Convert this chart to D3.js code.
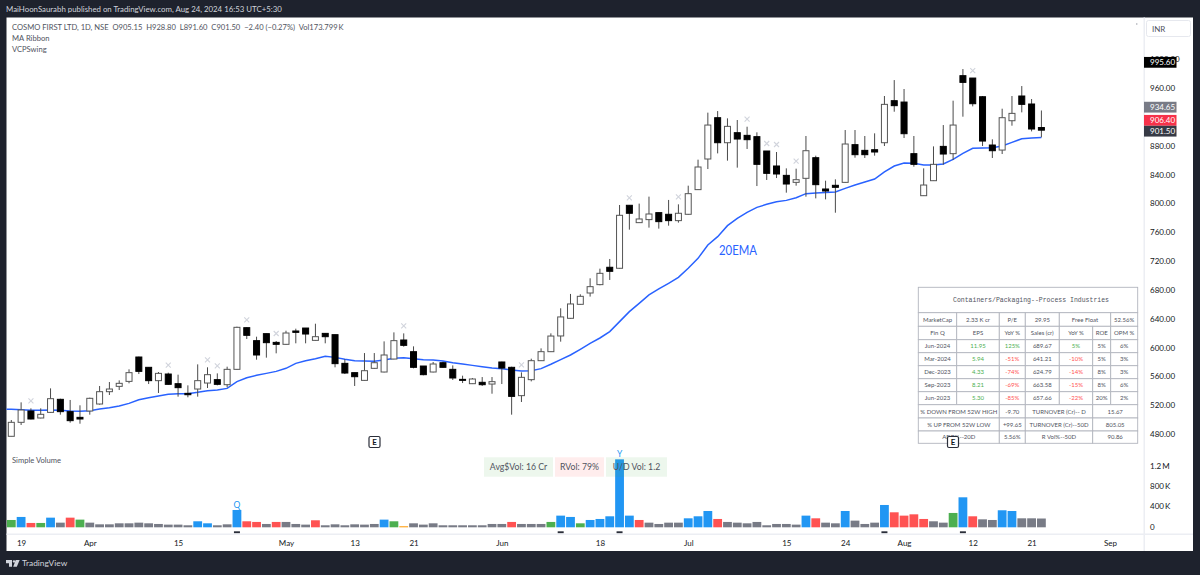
<!DOCTYPE html>
<html>
<head>
<meta charset="utf-8">
<script src="https://cdn.jsdelivr.net/npm/d3@7"></script>
<style>
    html, body { margin: 0; padding: 0; background: #1e222d; overflow: hidden; }
    text { font-family: Lato, sans-serif; }
</style>
</head>
<body>
<div id="chart"></div>
<script>
// daily candles
var opens = [476.8,496.2,511.9,502.2,510,528.1,511,503.1,511.9,521.6,
    538.7,546.1,553,586.8,572.5,554,563.2,549.8,536.4,542.4,
    550.7,555.4,548.4,569.7,627.5,609.5,619.2,607.1,604.4,622.9,
    627,609.9,619.6,617.8,578,565.1,554.4,571.1,566,584,
    610.4,594.2,574.3,566,578.9,569.7,555.8,549.8,551.7,549.3,
    579.9,572.5,533.2,555.4,581.7,594.2,616,640.5,659.9,675.6,
    687.2,711.3,709.9,797.3,773.2,777.4,787.1,784.8,776,784.8,
    819,861.5,918.8,884.1,898,894.3,892.5,872.6,851.8,838.8,
    829.1,834.7,863.3,819.9,825,829.1,881.4,873.5,874.4,884.1,
    942.4,940.5,868.9,810.6,831.4,879,868.9,977.1,973.8,947.9,
    880.9,873.9,914.6,948.9,937.8,905.15];
var highs = [499.4,523.9,515.6,515.6,543.3,529,527.2,519.8,530.4,546.6,
    552.1,554.4,569.7,587.3,572.5,566,565.1,562.3,547.5,576.6,
    572.5,564.1,573.4,628.9,628,615,619.2,609,623.3,626.1,
    627,633,619.6,617.8,583.6,565.1,592.3,592.3,608.5,621,
    619.6,601.6,574.3,579.9,580.3,575.2,560.9,557.7,559,559,
    580.3,573.4,565.5,584.5,598.8,619.6,654.4,674.3,673.8,696,
    709.4,722.8,797.7,797.3,799.6,809.3,787.1,804.7,798.6,824.5,
    860.6,925.8,928,917.9,915.6,906.3,898.5,872.6,871.2,848.5,
    848.1,893.4,866.1,831.4,833.3,901.7,901.7,893.4,897.1,948.9,
    971,958.6,893.4,848.5,879,908.6,942.4,986.3,973.8,948.9,
    888.8,931.3,948.9,962.7,944.7,928.8];
var lows = [476.8,492.5,500.3,501.7,509.6,506.8,495.7,494.3,506.8,520.7,
    534.1,541,550.3,563.2,549.3,536.9,548.4,531.8,530.9,531.8,
    543.8,547.5,544.7,569.2,611.8,583.1,585.9,591.9,603.9,605.8,
    605.8,609.5,605.8,572.5,563.2,546.6,554,570.6,565.5,583.6,
    601.1,571.1,561.4,565.5,572,554.9,550.7,549.3,546.6,535.9,
    549.3,506.8,524.4,553,581.3,593.7,608.1,640,659.5,670.6,
    686.3,693.7,709.4,763.5,772.7,766.3,764.9,769,773.2,784.3,
    818.5,847.6,869.3,859.2,849.5,875.4,824,832.4,835.1,814.8,
    824.5,809.2,806.9,805.5,787,828.7,863.3,862.9,866.1,879.5,
    927.1,890.6,850.8,810.2,831,853.6,860.1,920.2,934.5,879.5,
    862.9,868.4,907.7,926.2,899.8,891.6];
var closes = [496.2,513.3,500.8,507.3,529,511,498.5,500.8,529.5,538.7,
    542.4,550.3,565.1,566.9,554,564.1,548.9,544.3,534.5,554,
    562.3,548.9,569.7,628,616.9,589.6,606.7,604.4,620.1,621,
    618.7,615,615,577.6,564.6,559.5,567.8,578.9,589.6,609.5,
    603,572.5,562.3,577.1,572.5,557.7,555.4,556.3,548.4,552.6,
    571.5,532.2,558.6,581.7,594.2,615.9,642.4,660.4,671,684.4,
    702.9,705.7,783.4,786.2,778.3,785.2,774.6,776,786.2,813.4,
    850.4,908.6,884.1,906.8,889.2,888.3,854.1,841.6,840.7,826.8,
    832.8,873,825.9,817.1,822.2,882.3,867.5,867.5,871.2,937.3,
    935.5,896.6,854.1,825.4,854.1,868.4,908.6,967.8,938.2,886.4,
    873,918.8,924.8,937.3,903.1,901.5];

// 20 EMA, first value sits one bar left of the first candle
var emaValues = [514.2,
    514.2,513.7,512.8,512.8,513.3,512.8,511.9,511.4,512.4,514.7,
    516.5,518.8,522.5,527.6,530.4,532.7,535,535.9,535.9,537.8,
    540.1,541,543.3,552.6,558.1,561.4,564.1,566.9,571.1,578,
    581.7,584.5,587.7,586.3,583.6,581.7,581.3,580.8,582.6,585,
    585.9,584.5,583.1,582.6,581.3,578.9,577.1,575.2,573.4,571.5,
    570.6,568.8,567.4,567.8,570.7,576.7,583.2,589.6,597.5,605.8,
    613.2,622,635.9,649.8,661.3,672.9,681.2,689.1,697.4,709.9,
    723.7,742.2,753.8,769,779.2,787.5,794.4,798.6,802.3,804.1,
    807.8,813.4,814.3,815.2,815.7,820.8,825.4,829.6,833.7,843.6,
    851.8,855.9,855.5,853.1,853.1,854.5,861,869.3,876.3,876.7,
    877.2,879.5,884.6,889.7,890.6,891.5];

// volume in thousands
var volumes = [145,205,86,86,191,92,191,152,92,59,
    59,79,79,92,79,66,53,53,40,119,
    79,40,59,343,119,106,66,106,106,66,
    53,139,40,59,40,59,53,66,152,119,
    20,79,53,79,40,40,40,40,40,66,
    66,106,66,66,66,106,231,205,79,145,
    165,218,1346,231,145,92,66,92,92,178,
    218,323,165,106,92,79,106,40,66,66,
    53,231,178,92,79,323,132,66,92,442,
    297,231,257,165,119,92,284,594,218,158,
    145,337,323,178,178,174];
var volumeKinds = ("g b r g b n r g n n " +
    "n n n n n n n n n b " +
    "b n n b r r n r n n " +
    "n r n n n n n n b g " +
    "o n n n n n n n n n " +
    "n r n n n g b b g b " +
    "b b b b r n n n n b " +
    "b b r n n n n n n n " +
    "n b r n n b n n n b " +
    "r r r r n n g b r n " +
    "n b b n n n").split(" ");

var crossBars = [2,16,20,21,24,27,40,52,63,68,75,77,78,80,98];
var signalDashes = [23,56,62,89,97];
var volumeLetters = [{bar: 23, text: "Q"}, {bar: 62, text: "Y"}];

var priceTicks = [1000,960,880,840,800,760,720,680,640,600,560,520,480];
var volumeTicks = [0,400,800,1200];
var timeBars = [1,8,17,28,35,41,50,60,69,79,85,91,98,104,112];
var timeLabels = ["19","Apr","15","May","13","21","Jun","18","Jul","15","24","Aug","12","21","Sep"];

var tableTitle = "Containers/Packaging--Process Industries";
var summaryRow = ["MarketCap","2.33 K cr","P/E","29.95","Free Float","52.56%"];
var finHead = ["Fin Q","EPS","YoY %","Sales (cr)","YoY %","ROE","OPM %"];
var finQuarters = ["Jun-2024","Mar-2024","Dec-2023","Sep-2023","Jun-2023"];
var finEps = ["11.95","5.94","4.33","8.21","5.30"];
var finEpsYoy = ["125%","-51%","-74%","-69%","-85%"];
var finSales = ["689.67","641.21","624.79","663.58","657.66"];
var finSalesYoy = ["5%","-10%","-14%","-15%","-22%"];
var finRoe = ["5%","5%","8%","8%","20%"];
var finOpm = ["6%","3%","3%","6%","2%"];
var footRows = [
    ["% DOWN FROM 52W HIGH","-9.70","TURNOVER  (Cr)-- D","15.67"],
    ["% UP FROM 52W LOW","+99.65","TURNOVER (Cr)--50D","805.05"],
    ["ADR%--20D","5.56%","R Vol%--50D","90.86"]
];

var width = 1200, height = 575;
var kindColor = {g: "#4caf50", b: "#2196f3", r: "#ff5252", n: "#787b86", o: "#ff9800"};
var green = "#4caf50", red = "#ff5252", inkTable = "#50535e", ink = "#131722";
var tickSize = "8px", legendSize = "7.6px", tableSize = "6px";

var svg = d3.select("#chart").append("svg")
    .attr("width", width)
    .attr("height", height)
    .style("display", "block");

// scales
var x = d3.scaleLinear().domain([0, 105]).range([11.3, 1041.4]);
var y = d3.scaleLinear().domain([480, 960]).range([434, 88]);
var yVol = d3.scaleLinear().domain([0, 1200]).range([527.3, 466.7]);

// frame
svg.append("rect").attr("width", width).attr("height", height).attr("fill", "#1e222d");
svg.append("rect").attr("x", 6.5).attr("y", 17.5).attr("width", 1186.5).attr("height", 533.5).attr("fill", "#fff");
svg.append("clipPath").attr("id", "pane")
    .append("rect").attr("x", 6.5).attr("y", 17.5).attr("width", 1137).attr("height", 516);
svg.append("rect").attr("x", 6.5).attr("y", 533.5).attr("width", 1186.5).attr("height", 1.5).attr("fill", "#eceef3");
svg.append("rect").attr("x", 1143.5).attr("y", 17.5).attr("width", 1.5).attr("height", 533.5).attr("fill", "#eceef3");

// header lines
svg.append("text").attr("x", 6).attr("y", 12.3).attr("fill", "#d1d4dc").style("font-size", "7.83px")
    .text("MaiHoonSaurabh published on TradingView.com, Aug 24, 2024 16:53 UTC+5:30");
var legendLines = [
    {t: "COSMO FIRST LTD, 1D, NSE\u00a0\u00a0O905.15\u00a0\u00a0H928.80\u00a0\u00a0L891.60\u00a0\u00a0C901.50\u00a0\u00a0\u22122.40 (\u22120.27%)\u00a0\u00a0Vol173.799\u2009K", y: 30.3},
    {t: "MA Ribbon", y: 41.2},
    {t: "VCPSwing", y: 52.4}
];
svg.selectAll(".legend-line").data(legendLines).enter().append("text")
    .attr("class", "legend-line")
    .attr("x", 12)
    .attr("y", function(d) { return d.y; })
    .attr("fill", inkTable)
    .style("font-size", legendSize)
    .text(function(d) { return d.t; });
svg.append("text").attr("x", 12).attr("y", 463.2).attr("fill", inkTable).style("font-size", legendSize).text("Simple Volume");

var pane = svg.append("g").attr("clip-path", "url(#pane)");

// volume bars
pane.selectAll(".vol").data(volumes).enter().append("rect")
    .attr("class", "vol")
    .attr("x", function(d, i) { return x(i) - 4.4; })
    .attr("y", function(d) { return yVol(d); })
    .attr("width", 8.8)
    .attr("height", function(d) { return yVol(0) - yVol(d); })
    .attr("fill", function(d, i) { return kindColor[volumeKinds[i]]; });

pane.selectAll(".dash").data(signalDashes).enter().append("rect")
    .attr("class", "dash")
    .attr("x", function(d) { return x(d) - 3; })
    .attr("y", 531.3)
    .attr("width", 6)
    .attr("height", 2)
    .attr("fill", "#2a2e39");

pane.selectAll(".vol-letter").data(volumeLetters).enter().append("text")
    .attr("class", "vol-letter")
    .attr("x", function(d) { return x(d.bar); })
    .attr("y", function(d) { return yVol(volumes[d.bar]) - 2; })
    .attr("text-anchor", "middle")
    .attr("fill", "#2196f3")
    .style("font-size", "8.5px")
    .text(function(d) { return d.text; });

// ema under the candles
var emaLine = d3.line()
    .x(function(d, i) { return x(i - 1); })
    .y(function(d) { return y(d); });
pane.append("path")
    .datum(emaValues)
    .attr("d", emaLine)
    .attr("fill", "none")
    .attr("stroke", "#2962ff")
    .attr("stroke-width", 1.5);

// candles
var candles = pane.selectAll(".candle").data(opens).enter().append("g").attr("class", "candle");
candles.append("line")
    .attr("x1", function(d, i) { return x(i); })
    .attr("x2", function(d, i) { return x(i); })
    .attr("y1", function(d, i) { return y(highs[i]); })
    .attr("y2", function(d, i) { return y(lows[i]); })
    .attr("stroke", "#4a4a4a");
candles.append("rect")
    .attr("x", function(d, i) { return x(i) - 3; })
    .attr("y", function(d, i) { return y(Math.max(opens[i], closes[i])); })
    .attr("width", 6)
    .attr("height", function(d, i) { return Math.max(1, Math.abs(y(opens[i]) - y(closes[i]))); })
    .attr("fill", function(d, i) { return closes[i] >= opens[i] ? "#fff" : "#000"; })
    .attr("stroke", function(d, i) { return closes[i] >= opens[i] ? "#555" : "#000"; });

// VCPSwing crosses above the highs
pane.selectAll(".cross").data(crossBars).enter().append("path")
    .attr("class", "cross")
    .attr("d", function(d) {
        var cx = x(d), cy = y(highs[d]) - 7.5;
        return "M" + (cx - 2.5) + "," + (cy - 2.5) + "L" + (cx + 2.5) + "," + (cy + 2.5) +
            "M" + (cx - 2.5) + "," + (cy + 2.5) + "L" + (cx + 2.5) + "," + (cy - 2.5);
    })
    .attr("stroke", "#d1d4dc")
    .attr("stroke-width", 1.1)
    .attr("fill", "none");

svg.append("text").attr("x", 719).attr("y", 255).attr("fill", "#2962ff")
    .attr("textLength", 38).attr("lengthAdjust", "spacingAndGlyphs")
    .style("font-size", "13px").text("20EMA");

// axes
function styleAxis(g) {
    g.select(".domain").remove();
    g.selectAll("text").attr("fill", ink).style("font-size", tickSize).style("font-family", "Lato, sans-serif");
}
var priceAxis = d3.axisRight(y).tickValues(priceTicks).tickSize(0).tickPadding(0)
    .tickFormat(d3.format(".2f"));
svg.append("g").attr("transform", "translate(1150,0)").call(priceAxis).call(styleAxis);

var volAxis = d3.axisRight(yVol).tickValues(volumeTicks).tickSize(0).tickPadding(0)
    .tickFormat(function(d) { return d === 0 ? "0" : d >= 1000 ? (d / 1000) + "\u2009M" : d + "\u2009K"; });
svg.append("g").attr("transform", "translate(1150,-0.8)").call(volAxis).call(styleAxis);

var timeAxis = d3.axisBottom(x).tickValues(timeBars).tickSize(0).tickPadding(0)
    .tickFormat(function(d, i) { return timeLabels[i]; });
svg.append("g").attr("transform", "translate(0,540)").call(timeAxis).call(styleAxis);

// price labels on the right scale
var priceLabels = [
    {v: 995.6, fill: "#000", nudge: 0},
    {v: 934.65, fill: "#787b86", nudge: 0.9},
    {v: 906.4, fill: "#f7324a", nudge: -6.3},
    {v: 901.5, fill: "#363a45", nudge: 1}
];
var labelG = svg.selectAll(".price-label").data(priceLabels).enter().append("g").attr("class", "price-label")
    .attr("transform", function(d) { return "translate(1144," + (y(d.v) + d.nudge) + ")"; });
labelG.append("rect").attr("y", -5.4).attr("width", 32.5).attr("height", 10.8)
    .attr("fill", function(d) { return d.fill; });
labelG.append("text").attr("x", 6).attr("y", 2.9).attr("fill", "#fff")
    .style("font-size", tickSize).text(function(d) { return d.v.toFixed(2); });

// currency box
svg.append("rect").attr("x", 1146.5).attr("y", 20.5).attr("width", 44).attr("height", 16).attr("rx", 2)
    .attr("fill", "#fff").attr("stroke", "#e6e8ee");
svg.append("text").attr("x", 1152).attr("y", 31.5).attr("fill", inkTable).style("font-size", tickSize).text("INR");
svg.append("circle").attr("cx", 1136.8).attr("cy", 24).attr("r", 0.7).attr("fill", "#9598a1");

// volume badges, sit over the bars
var badges = [
    {x0: 484, x1: 553, fill: "rgba(76,175,80,0.10)", t: "Avg$Vol: 16 Cr"},
    {x0: 555, x1: 604, fill: "rgba(255,82,82,0.10)", t: "RVol: 79%"},
    {x0: 606, x1: 667, fill: "rgba(76,175,80,0.10)", t: "U/D Vol: 1.2"}
];
var badge = svg.selectAll(".badge").data(badges).enter().append("g").attr("class", "badge");
badge.append("rect")
    .attr("x", function(d) { return d.x0; })
    .attr("y", 457.3)
    .attr("width", function(d) { return d.x1 - d.x0; })
    .attr("height", 19.4)
    .attr("fill", function(d) { return d.fill; });
badge.append("text")
    .attr("x", function(d) { return (d.x0 + d.x1) / 2; })
    .attr("y", 470)
    .attr("text-anchor", "middle")
    .attr("fill", "#50535e")
    .style("font-size", "8.7px")
    .text(function(d) { return d.t; });

// fundamentals table
var tbl = svg.append("g");
var rowEdges = [287.3,312.7,326.3,339.7,352.7,365.7,378.7,391.7,404.7,418,431,443.3];
var colEdges = [918.3,956.7,999.3,1025.3,1059.3,1092.7,1110.7,1137.7];

function cell(x0, x1, r, text, color, mono) {
    tbl.append("rect")
        .attr("x", x0).attr("y", rowEdges[r])
        .attr("width", x1 - x0).attr("height", rowEdges[r + 1] - rowEdges[r])
        .attr("fill", "#fff").attr("stroke", "#b2b5be").attr("stroke-width", 0.9);
    var t = tbl.append("text")
        .attr("x", (x0 + x1) / 2 + (mono ? 3 : 0))
        .attr("y", (rowEdges[r] + rowEdges[r + 1]) / 2 + 2.2)
        .attr("text-anchor", "middle")
        .attr("fill", color || inkTable)
        .style("font-size", mono ? "6.5px" : tableSize)
        .text(text);
    if (mono) t.style("font-family", '"Liberation Mono", monospace');
}
function signColor(s) { return s.charAt(0) === "-" ? red : green; }

cell(colEdges[0], colEdges[7], 0, tableTitle, inkTable, true);
[[0,1],[1,2],[2,3],[3,4],[4,6],[6,7]].forEach(function(span, i) {
    cell(colEdges[span[0]], colEdges[span[1]], 1, summaryRow[i]);
});
finHead.forEach(function(h, i) { cell(colEdges[i], colEdges[i + 1], 2, h); });
finQuarters.forEach(function(q, i) {
    var r = 3 + i;
    cell(colEdges[0], colEdges[1], r, q);
    cell(colEdges[1], colEdges[2], r, finEps[i], green);
    cell(colEdges[2], colEdges[3], r, finEpsYoy[i], signColor(finEpsYoy[i]));
    cell(colEdges[3], colEdges[4], r, finSales[i]);
    cell(colEdges[4], colEdges[5], r, finSalesYoy[i], signColor(finSalesYoy[i]));
    cell(colEdges[5], colEdges[6], r, finRoe[i]);
    cell(colEdges[6], colEdges[7], r, finOpm[i]);
});
footRows.forEach(function(row, i) {
    var r = 8 + i;
    cell(colEdges[0], colEdges[2], r, row[0]);
    cell(colEdges[2], colEdges[3], r, row[1]);
    cell(colEdges[3], colEdges[5], r, row[2]);
    cell(colEdges[5], colEdges[7], r, row[3]);
});

// earnings markers
var earnings = svg.selectAll(".earn").data([374.5, 953]).enter().append("g").attr("class", "earn")
    .attr("transform", function(d) { return "translate(" + d + ",442)"; });
earnings.append("rect").attr("x", -5.5).attr("y", -5.5).attr("width", 11).attr("height", 11).attr("rx", 1.5)
    .attr("fill", "#fff").attr("stroke", "#2a2e39").attr("stroke-width", 1.2);
earnings.append("text").attr("y", 2.8).attr("text-anchor", "middle").attr("fill", "#131722")
    .style("font-size", "8px").style("font-weight", "700").text("E");

// tradingview mark
svg.append("path")
    .attr("d", "M6,560h6v6.7h-3v-3.5h-3z M15.7,560h4l-2.9,6.7h-3.6z")
    .attr("fill", "#d1d4dc");
svg.append("circle").attr("cx", 14).attr("cy", 561.4).attr("r", 1.2).attr("fill", "#d1d4dc");
svg.append("text").attr("x", 22).attr("y", 566.4).attr("fill", "#d1d4dc")
    .style("font-size", "8.4px").text("TradingView");
</script>
</body>
</html>
